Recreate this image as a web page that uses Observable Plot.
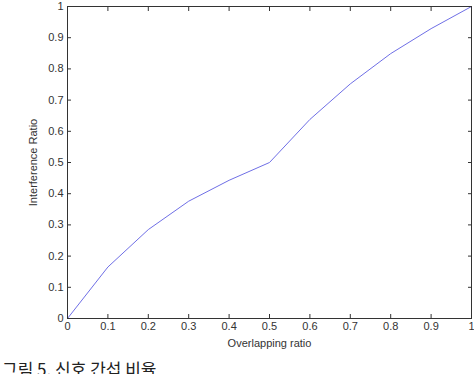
<!DOCTYPE html>
<html>
<head>
<meta charset="utf-8">
<script src="https://cdn.jsdelivr.net/npm/d3@7"></script>
<script src="https://cdn.jsdelivr.net/npm/@observablehq/plot@0.6"></script>
<style>
  html, body { margin: 0; padding: 0; background: #fff; }
  #chart { width: 474px; }
  #caption { font-family: "Noto Sans CJK KR", sans-serif; font-size: 17px; color: #222; margin: 7px 0 0 2px; line-height: 20px; white-space: nowrap; }
</style>
</head>
<body>
<div id="chart"></div>
<div id="caption"></div>
<script>
const overlapping = [0, 0.1, 0.2, 0.3, 0.4, 0.5, 0.6, 0.7, 0.8, 0.9, 1.0];
const interference = [0, 0.165, 0.285, 0.376, 0.443, 0.5, 0.638, 0.752, 0.849, 0.929, 1.0];
const xTicks = [0, 0.1, 0.2, 0.3, 0.4, 0.5, 0.6, 0.7, 0.8, 0.9, 1];
const yTicks = [0, 0.1, 0.2, 0.3, 0.4, 0.5, 0.6, 0.7, 0.8, 0.9, 1];
const xLabel = "Overlapping ratio";
const yLabel = "Interference Ratio";
const captionText = "그림 5. 신호 간섭 비율";

const data = overlapping.map((x, i) => ({x, y: interference[i]}));
const fmt = d => String(d);
const ink = "#333";

const chart = Plot.plot({
  width: 474,
  height: 352,
  marginTop: 6,
  marginBottom: 34,
  marginLeft: 67,
  marginRight: 3,
  style: {fontFamily: "'Liberation Sans', Arial, sans-serif", fontSize: "11px", color: ink, background: "#fff"},
  x: {domain: [0, 1]},
  y: {domain: [0, 1]},
  marks: [
    Plot.line(data, {x: "x", y: "y", stroke: "#6f6fe6", strokeWidth: 1}),
    Plot.axisX({anchor: "bottom", ticks: xTicks, tickFormat: fmt, tickSize: -4, tickPadding: 8, label: xLabel, labelAnchor: "center", labelArrow: "none", labelOffset: 28, stroke: ink, fill: ink}),
    Plot.axisX({anchor: "top", ticks: xTicks, tickFormat: () => "", tickSize: -4, label: null, stroke: ink}),
    Plot.axisY({anchor: "left", ticks: yTicks, tickFormat: fmt, tickSize: -4, tickPadding: 8, label: yLabel, labelAnchor: "center", labelArrow: "none", labelOffset: 38, stroke: ink, fill: ink}),
    Plot.axisY({anchor: "right", ticks: yTicks, tickFormat: () => "", tickSize: -4, label: null, stroke: ink}),
    Plot.frame({stroke: ink, strokeWidth: 1})
  ]
});
document.getElementById("chart").appendChild(chart);
document.getElementById("caption").textContent = captionText;
</script>
</body>
</html>
